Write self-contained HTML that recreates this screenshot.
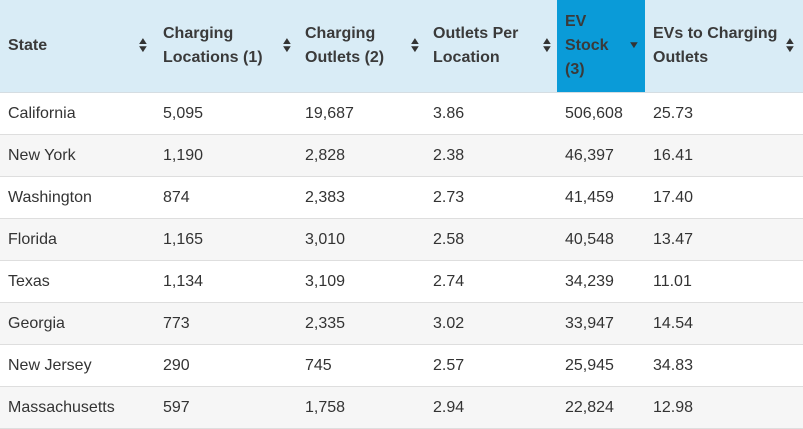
<!DOCTYPE html>
<html><head><meta charset="utf-8"><style>
body{margin:0;width:803px;height:429px;overflow:hidden;background:#fff;font-family:"Liberation Sans",sans-serif;color:#333}
table{border-collapse:collapse;table-layout:fixed;width:803px}
th{background:#d9ecf6;height:92px;text-align:left;font-weight:bold;font-size:16px;line-height:24px;padding:0 22px 0 8px;position:relative;vertical-align:middle;border-bottom:1px solid #d5dde2;color:#3a3a3a}
th.sorted{background:#0a9bd8;color:#3a3a3a}
td{height:41px;font-size:16px;padding:0 8px;border-bottom:1px solid #dedede;color:#333}
tr.even td{background:#f6f6f6}
.si{position:absolute;right:7px;top:50%;transform:translateY(-50%) scaleX(1.3);font-size:10px;line-height:8px;color:#333;text-align:center}
</style></head><body>
<table>
<colgroup><col style="width:155px"><col style="width:142px"><col style="width:128px"><col style="width:132px"><col style="width:88px"><col style="width:158px"></colgroup>
<thead><tr>
<th>State<span class="si">▲<br>▼</span></th>
<th>Charging Locations (1)<span class="si" style="right:5px">▲<br>▼</span></th>
<th>Charging Outlets (2)<span class="si" style="right:5px">▲<br>▼</span></th>
<th>Outlets Per Location<span class="si" style="right:5px">▲<br>▼</span></th>
<th class="sorted" style="padding-right:26px">EV Stock (3)<span class="si" style="right:6px">▼</span></th>
<th>EVs to Charging Outlets<span class="si" style="right:8px">▲<br>▼</span></th>
</tr></thead>
<tbody>
<tr><td>California</td><td>5,095</td><td>19,687</td><td>3.86</td><td>506,608</td><td>25.73</td></tr>
<tr class="even"><td>New York</td><td>1,190</td><td>2,828</td><td>2.38</td><td>46,397</td><td>16.41</td></tr>
<tr><td>Washington</td><td>874</td><td>2,383</td><td>2.73</td><td>41,459</td><td>17.40</td></tr>
<tr class="even"><td>Florida</td><td>1,165</td><td>3,010</td><td>2.58</td><td>40,548</td><td>13.47</td></tr>
<tr><td>Texas</td><td>1,134</td><td>3,109</td><td>2.74</td><td>34,239</td><td>11.01</td></tr>
<tr class="even"><td>Georgia</td><td>773</td><td>2,335</td><td>3.02</td><td>33,947</td><td>14.54</td></tr>
<tr><td>New Jersey</td><td>290</td><td>745</td><td>2.57</td><td>25,945</td><td>34.83</td></tr>
<tr class="even"><td>Massachusetts</td><td>597</td><td>1,758</td><td>2.94</td><td>22,824</td><td>12.98</td></tr>
</tbody></table>
</body></html>
